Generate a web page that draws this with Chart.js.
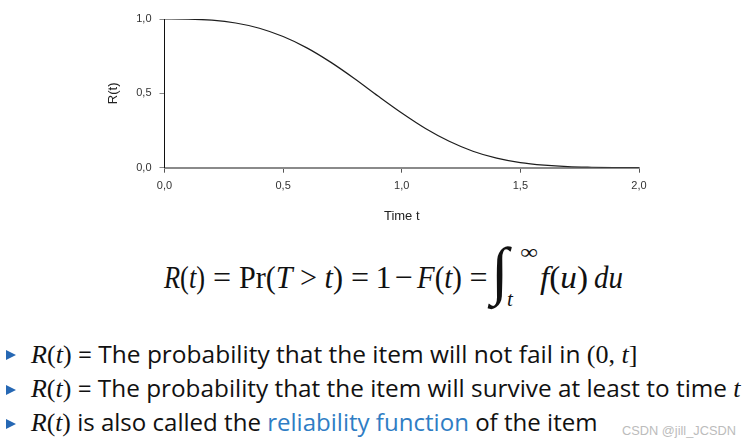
<!DOCTYPE html>
<html>
<head>
<meta charset="utf-8">
<script src="https://cdn.jsdelivr.net/npm/chart.js@4.4.1/dist/chart.umd.min.js"></script>
<style>
    html, body { margin: 0; padding: 0; background: #fff; }
    body { width: 751px; height: 445px; position: relative; overflow: hidden; }
    #chartBox { position: absolute; left: 0; top: 0; width: 751px; height: 224px; }
    .txt { position: absolute; left: 0; top: 0; white-space: nowrap; line-height: normal; color: #111; }
    .bl { display: inline-block; width: 0; height: 0; vertical-align: baseline; }
    .mth { font-family: "Liberation Serif", "DejaVu Serif", serif; }
    .mth i { font-style: italic; }
    .big { font-size: 32px; }
    .sans { font-family: "Open Sans", "Noto Sans", sans-serif; font-size: 23px; }
    .sans .mth { font-size: 24.5px; }
    .link { color: #2f7dc4; }
    .bullet { position: absolute; width: 0; height: 0; border-left: 10px solid #2668b4;
              border-top: 5.5px solid transparent; border-bottom: 5.5px solid transparent; left: 6px; }
    .wm { font-family: "Liberation Sans", Arial, sans-serif; font-size: 13px; color: #bcbcbc; }
</style>
</head>
<body>
<div id="chartBox"><canvas id="relChart" width="751" height="224"></canvas></div>

<div class="txt mth big" id="fR"><i>R</i>(<i>t</i>)<span class="bl"></span></div>
<div class="txt mth big" id="fEq1">=<span class="bl"></span></div>
<div class="txt mth big" id="fPr">Pr(<i>T</i> &gt; <i>t</i>)<span class="bl"></span></div>
<div class="txt mth big" id="fEq2">=<span class="bl"></span></div>
<div class="txt mth big" id="fOne">1<span class="bl"></span></div>
<div class="txt mth big" id="fMinus">−<span class="bl"></span></div>
<div class="txt mth big" id="fF"><i>F</i>(<i>t</i>)<span class="bl"></span></div>
<div class="txt mth big" id="fEq3">=<span class="bl"></span></div>
<div class="txt mth" id="fInt" style="font-size:64px">∫<span class="bl"></span></div>
<div class="txt mth" id="fSup" style="font-size:21px">∞<span class="bl"></span></div>
<div class="txt mth" id="fSub" style="font-size:21px"><i>t</i><span class="bl"></span></div>
<div class="txt mth big" id="fFu"><i>f</i>(<i>u</i>)<span class="bl"></span></div>
<div class="txt mth big" id="fDu"><i>du</i><span class="bl"></span></div>

<div class="bullet" style="top:350px"></div>
<div class="bullet" style="top:384.5px"></div>
<div class="bullet" style="top:418.5px"></div>

<div class="txt sans" id="line1"><span class="mth"><i>R</i>(<i>t</i>)</span> = The probability that the item will not fail in <span class="mth">(0, <i>t</i>]</span><span class="bl"></span></div>
<div class="txt sans" id="line2"><span class="mth"><i>R</i>(<i>t</i>)</span> = The probability that the item will survive at least to time <span class="mth"><i>t</i></span><span class="bl"></span></div>
<div class="txt sans" id="line3"><span class="mth"><i>R</i>(<i>t</i>)</span> is also called the <span class="link">reliability function</span> of the item<span class="bl"></span></div>
<div class="txt wm" id="watermark">CSDN @jill_JCSDN<span class="bl"></span></div>

<script>
// values, t = 0.0 ... 2.0
const timeValues = [0.0, 0.1, 0.2, 0.3, 0.4, 0.5, 0.6, 0.7, 0.8, 0.9, 1.0,
                    1.1, 1.2, 1.3, 1.4, 1.5, 1.6, 1.7, 1.8, 1.9, 2.0];
const reliabilityValues = [1.000, 0.999, 0.992, 0.973, 0.938, 0.882, 0.806, 0.710, 0.600, 0.482, 0.368,
                           0.264, 0.178, 0.111, 0.064, 0.034, 0.017, 0.007, 0.003, 0.001, 0.000];
const xTickLabels = ['0,0', '0,5', '1,0', '1,5', '2,0'];
const yTickLabels = ['0,0', '0,5', '1,0'];

const points = timeValues.map((t, i) => ({ x: t, y: reliabilityValues[i] }));

const tickFont = { family: '"Liberation Sans", Arial, sans-serif', size: 11 };
const titleFont = { family: '"Liberation Sans", Arial, sans-serif', size: 13 };

new Chart(document.getElementById('relChart'), {
    type: 'line',
    data: {
        datasets: [{
            data: points,
            borderColor: '#1e1e1e',
            borderWidth: 1.2,
            pointRadius: 0,
            fill: false,
            cubicInterpolationMode: 'monotone'
        }]
    },
    options: {
        responsive: false,
        animation: false,
        layout: { padding: { left: 0, right: 112, top: 19, bottom: 0 } },
        plugins: { legend: { display: false }, tooltip: { enabled: false } },
        scales: {
            x: {
                type: 'linear',
                min: 0,
                max: 2,
                afterFit: function(scale) { scale.height = 56.3; },
                ticks: {
                    stepSize: 0.5,
                    autoSkip: false,
                    maxRotation: 0,
                    padding: 7,
                    color: '#333',
                    font: tickFont,
                    callback: (v, i) => xTickLabels[i]
                },
                grid: { drawOnChartArea: false, drawTicks: true, tickLength: 5, tickColor: '#555' },
                border: { display: true, color: '#8a8a8a', width: 2 },
                title: { display: true, text: 'Time t', color: '#222', font: titleFont, padding: { top: 0, bottom: 0 } }
            },
            y: {
                min: 0,
                max: 1,
                afterFit: function(scale) { scale.width = 164.5; },
                ticks: {
                    stepSize: 0.5,
                    padding: 8,
                    color: '#333',
                    font: tickFont,
                    callback: (v, i) => yTickLabels[i]
                },
                grid: { drawOnChartArea: false, drawTicks: true, tickLength: 5, tickColor: '#888' },
                border: { display: true, color: '#111', width: 1 },
                title: { display: true, text: 'R(t)', color: '#222', font: titleFont, padding: { top: 105.7, bottom: 0 } }
            }
        }
    }
});

// put a text block so that its baseline sits at y and (optionally) it spans left..right
function place(id, left, right, baseline) {
    const el = document.getElementById(id);
    el.style.left = left + 'px';
    el.style.top = '0px';
    const box = el.getBoundingClientRect();
    const mark = el.querySelector('.bl').getBoundingClientRect();
    el.style.top = (baseline - (mark.top - box.top)) + 'px';
    if (right !== null) {
        el.style.transformOrigin = '0 0';
        el.style.transform = 'scaleX(' + ((right - left) / box.width) + ')';
    }
}

document.fonts.ready.then(function() {
    // formula pieces
    place('fR', 164, 205, 288);
    place('fEq1', 213, null, 288);
    place('fPr', 239, 343, 288);
    place('fEq2', 351, null, 288);
    place('fOne', 375.5, null, 288);
    place('fMinus', 394.5, null, 288);
    place('fF', 417, 462, 288);
    place('fEq3', 469.5, null, 288);
    place('fInt', 491, null, 292);
    place('fSup', 520, 538, 259);
    place('fSub', 507, null, 306);
    place('fFu', 540, 588, 288);
    place('fDu', 594, 623, 288);

    // bullet lines
    place('line1', 30.5, 637, 363);
    place('line2', 30.5, 740, 397);
    place('line3', 30.5, 597, 431);
    place('watermark', 622, 736, 435);
});
</script>
</body>
</html>
